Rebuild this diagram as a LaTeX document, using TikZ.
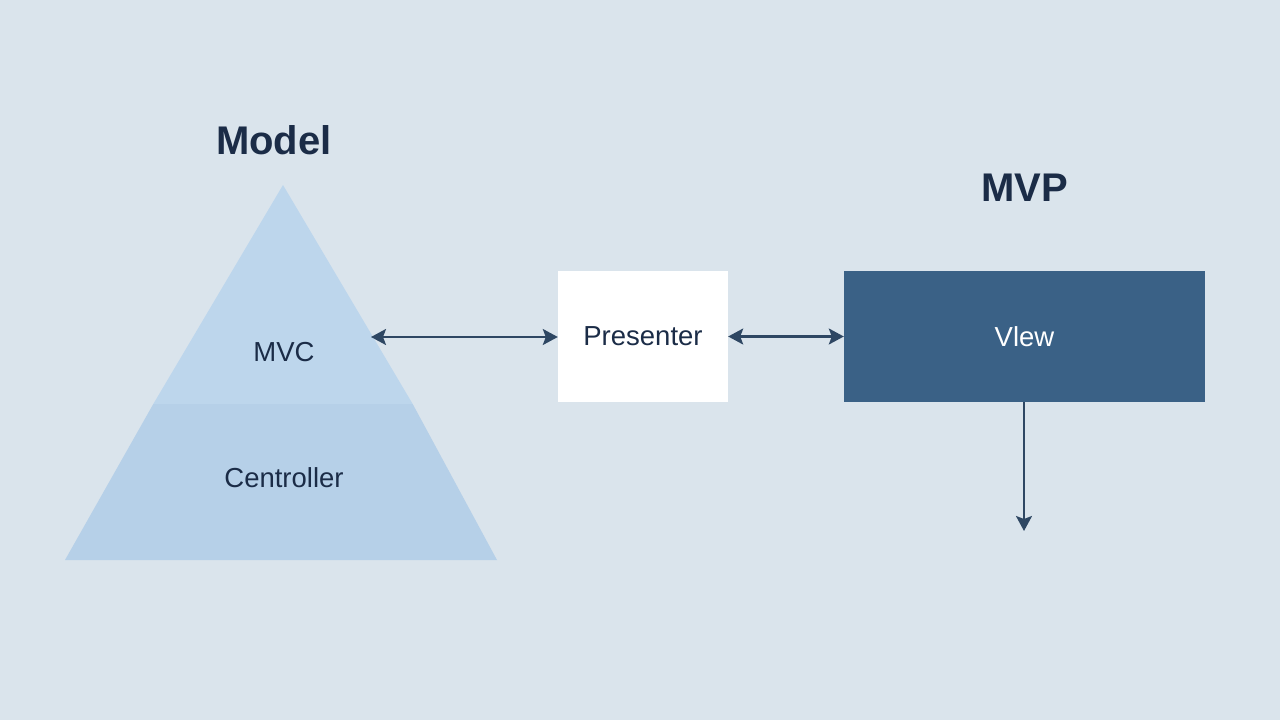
\documentclass[tikz,border=0pt]{standalone}
\usepackage{fontspec}
\setmainfont{Liberation Sans}
\usetikzlibrary{arrows.meta}
\definecolor{bg}{HTML}{DAE4EC}
\definecolor{triup}{HTML}{BDD6EC}
\definecolor{trilow}{HTML}{B6D0E8}
\definecolor{navy}{HTML}{1B2C47}
\definecolor{viewblue}{HTML}{3A6186}
\definecolor{arrowc}{HTML}{2E4763}
\tikzset{
  title/.style={font=\fontsize{40}{46}\selectfont\bfseries, text=navy},
  label/.style={font=\fontsize{27.5}{32}\selectfont, text=navy},
  box/.style={draw=none, minimum width=#1, minimum height=131pt, inner sep=0pt},
  conn/.style={draw=arrowc, line width=2.2pt},
  tip/.style={-{Stealth[length=15pt,width=16pt,inset=3pt]}},
  dtip/.style={{Stealth[length=15pt,width=16pt,inset=3pt]}-{Stealth[length=15pt,width=16pt,inset=3pt]}}
}
\begin{document}
\begin{tikzpicture}[x=1pt,y=-1pt]
\fill[bg] (0,0) rectangle (1280,720);
\useasboundingbox (0,0) rectangle (1280,720);
% triangle
\fill[triup] (283,185) -- (153.3,404) -- (412.7,404) -- cycle;
\fill[trilow] (153.3,404) -- (65,560) -- (497,560) -- (412.7,404) -- cycle;
\node[label] (mvc) at (284,352) {MVC};
\node[label] (ctrl) at (284,478) {Centroller};
\node[title] (model) at (274,140) {Model};
\node[title] (mvp) at (1025,188) {MVP};
\node[box=170pt, fill=white, label] (pres) at (643,336.5) {Presenter};
\node[box=361pt, fill=viewblue, font=\fontsize{27.5}{32}\selectfont, text=white] (view) at (1024.5,336.5) {Vlew};
\coordinate (triedge) at (371,337);
\coordinate (down) at (1024,531);
\draw[conn, dtip] (triedge) -- (triedge -| pres.west);
\draw[conn, dtip] (pres.east) -- (view.west);
\draw[conn, tip] (view.south -| down) -- (down);
\end{tikzpicture}
\end{document}
